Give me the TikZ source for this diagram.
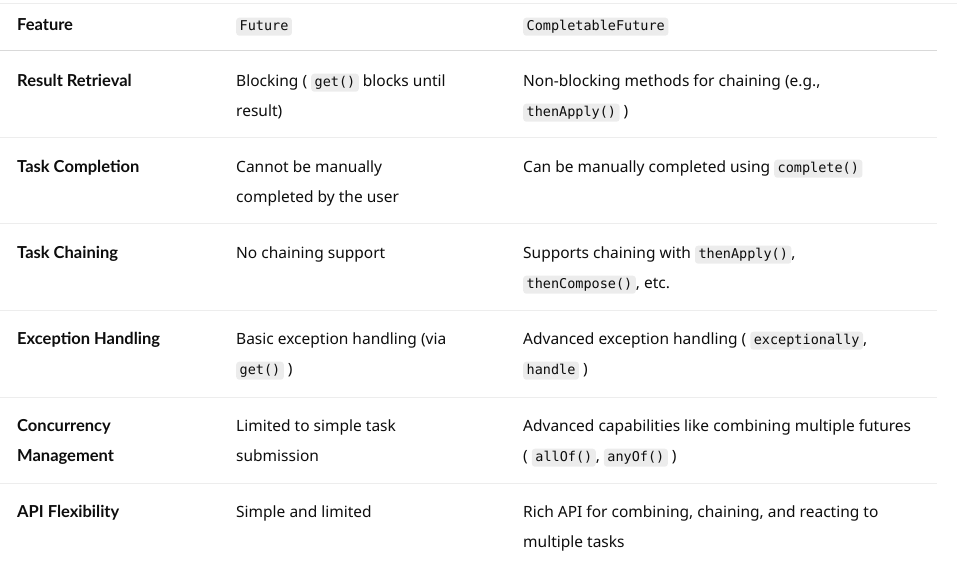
\documentclass[tikz,border=0pt]{standalone}
\usepackage{fontspec}
\setmainfont{Noto Sans}
\newfontfamily\headfont{Lato}
\setmonofont{DejaVu Sans Mono}
\definecolor{codebg}{HTML}{ECECEC}
\definecolor{rulelight}{HTML}{EDEDED}
\definecolor{ruledark}{HTML}{D9D9D9}
\definecolor{txt}{HTML}{0D0D0D}
\newcommand{\code}[1]{\tikz[baseline=(chip.base)]\node[fill=codebg,rounded corners=3pt,inner xsep=3.5pt,inner ysep=3pt,text height=9.5pt,text depth=2.5pt](chip){\fontsize{13.5}{14}\selectfont\ttfamily #1};}
\begin{document}
\begin{tikzpicture}[x=1pt,y=-1pt,
    cell/.style={anchor=north west,inner sep=0pt,align=left,text=txt,
        font=\fontsize{15.5}{30}\selectfont},
    head/.style={cell,font=\fontsize{16.5}{30}\selectfont\headfont\bfseries}]
    \useasboundingbox (0,0) rectangle (957,561);
    % rules
    \draw[rulelight] (0,3) -- (957,3);
    \draw[ruledark] (0,50) -- (937,50);
    \foreach \y in {137,223,310,397,483}
        \draw[rulelight] (0,\y) -- (937,\y);
    % header
    \node[head] (h1) at (17,9) {\strut Feature};
    \node[cell] (h2) at (236,9) {\strut\code{Future}};
    \node[cell] (h3) at (523,9) {\strut\code{CompletableFuture}};
    % rows
    \node[head] (r1a) at (17,65) {\strut Result Retrieval};
    \node[cell] (r1b) at (236,65) {\strut Blocking ( \code{get()} blocks until\\result)};
    \node[cell] (r1c) at (523,65) {\strut Non-blocking methods for chaining (e.g.,\\\code{thenApply()} )};
    \node[head] (r2a) at (17,151) {\strut Task Completion};
    \node[cell] (r2b) at (236,151) {\strut Cannot be manually\\completed by the user};
    \node[cell] (r2c) at (523,151) {\strut Can be manually completed using \code{complete()}};
    \node[head] (r3a) at (17,237) {\strut Task Chaining};
    \node[cell] (r3b) at (236,237) {\strut No chaining support};
    \node[cell] (r3c) at (523,237) {\strut Supports chaining with \code{thenApply()},\\\code{thenCompose()}, etc.};
    \node[head] (r4a) at (17,323) {\strut Exception Handling};
    \node[cell] (r4b) at (236,323) {\strut Basic exception handling (via\\\code{get()} )};
    \node[cell] (r4c) at (523,323) {\strut Advanced exception handling ( \code{exceptionally},\\\code{handle} )};
    \node[head] (r5a) at (17,410) {\strut Concurrency\\Management};
    \node[cell] (r5b) at (236,410) {\strut Limited to simple task\\submission};
    \node[cell] (r5c) at (523,410) {\strut Advanced capabilities like combining multiple futures\\( \code{allOf()}, \code{anyOf()} )};
    \node[head] (r6a) at (17,496) {\strut API Flexibility};
    \node[cell] (r6b) at (236,496) {\strut Simple and limited};
    \node[cell] (r6c) at (523,496) {\strut Rich API for combining, chaining, and reacting to\\multiple tasks};
\end{tikzpicture}
\end{document}
